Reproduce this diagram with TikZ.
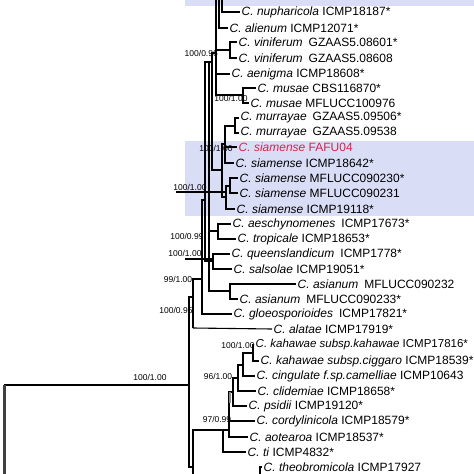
\documentclass[tikz,border=0pt]{standalone}
\usepackage{fontspec}
\setmainfont{Liberation Sans}
\definecolor{hl}{RGB}{218,221,246}
\definecolor{redtx}{RGB}{214,36,76}
\newcommand{\spn}[1]{\textit{#1}}
\newcommand{\gap}{\hspace{0.5em}}
\begin{document}
\begin{tikzpicture}[x=1pt,y=-1pt,
  br/.style={line width=1.1pt,black},
  leaf/.style={anchor=west,inner sep=1.5pt,font=\fontsize{12}{14}\selectfont},
  bs/.style={inner sep=0pt,font=\fontsize{8.5}{10}\selectfont}]
\useasboundingbox (0,0) rectangle (474,474);
\fill[hl] (185,0) rectangle (474,6);
\fill[hl] (185,141) rectangle (474,216);
% leaves
\node[leaf] (l1) at (240,12) {\spn{C. nupharicola} ICMP18187*};
\node[leaf] (l2) at (228,28) {\spn{C. alienum} ICMP12071*};
\node[leaf] (l3) at (237,42) {\spn{C. viniferum}\gap GZAAS5.08601*};
\node[leaf] (l4) at (237,58) {\spn{C. viniferum}\gap GZAAS5.08608};
\node[leaf] (l5) at (230,74) {\spn{C. aenigma} ICMP18608*};
\node[leaf] (l6) at (256,88) {\spn{C. musae} CBS116870*};
\node[leaf] (l7) at (249,103) {\spn{C. musae} MFLUCC100976};
\node[leaf] (l8) at (239,118) {\spn{C. murrayae}\gap GZAAS5.09506*};
\node[leaf] (l9) at (239,133) {\spn{C. murrayae}\gap GZAAS5.09538};
\node[leaf,text=redtx] (l10) at (237,147) {\spn{C. siamense} FAFU04};
\node[leaf] (l11) at (234,163) {\spn{C. siamense} ICMP18642*};
\node[leaf] (l12) at (238,178) {\spn{C. siamense} MFLUCC090230*};
\node[leaf] (l13) at (238,193) {\spn{C. siamense} MFLUCC090231};
\node[leaf] (l14) at (235,209) {\spn{C. siamense} ICMP19118*};
\node[leaf] (l15) at (231,224) {\spn{C. aeschynomenes}\gap ICMP17673*};
\node[leaf] (l16) at (236,239) {\spn{C. tropicale} ICMP18653*};
\node[leaf] (l17) at (230,254) {\spn{C. queenslandicum}\gap ICMP1778*};
\node[leaf] (l18) at (232,269) {\spn{C. salsolae} ICMP19051*};
\node[leaf] (l19) at (296,284) {\spn{C. asianum}\gap MFLUCC090232};
\node[leaf] (l20) at (238,299) {\spn{C. asianum}\gap MFLUCC090233*};
\node[leaf] (l21) at (232,314) {\spn{C. gloeosporioides}\gap ICMP17821*};
\node[leaf] (l22) at (272,329) {\spn{C. alatae} ICMP17919*};
\node[leaf,font=\fontsize{11.5}{14}\selectfont] (l23) at (254,345) {\spn{C. kahawae subsp.kahawae} ICMP17816*};
\node[leaf] (l24) at (259,361) {\spn{C. kahawae subsp.ciggaro} ICMP18539*};
\node[leaf] (l25) at (255,376) {\spn{C. cingulate f.sp.camelliae} ICMP10643};
\node[leaf] (l26) at (256,391) {\spn{C. clidemiae} ICMP18658*};
\node[leaf] (l27) at (247,406) {\spn{C. psidii} ICMP19120*};
\node[leaf] (l28) at (255,421) {\spn{C. cordylinicola} ICMP18579*};
\node[leaf] (l29) at (248,437) {\spn{C. aotearoa} ICMP18537*};
\node[leaf] (l30) at (246,452) {\spn{C. ti} ICMP4832*};
\node[leaf] (l31) at (262,467) {\spn{C. theobromicola} ICMP17927};
% internal coordinates
\coordinate (t1) at (222,0);
\coordinate (t2) at (219,0);
\coordinate (pat) at (216,0);
\coordinate (pa) at (216,53);
\coordinate (vin) at (230,50);
\coordinate (mu) at (243,95);
\coordinate (pb) at (212,62);
\coordinate (pc) at (209,110);
\coordinate (pd) at (205,200);
\coordinate (s) at (222,170);
\coordinate (s1) at (225,144);
\coordinate (m) at (235,126);
\coordinate (s3) at (226,197);
\coordinate (s2) at (230,186);
\coordinate (at) at (218,231);
\coordinate (qs) at (213,261);
\coordinate (as) at (230,291);
\coordinate (pe) at (202,244);
\coordinate (pf) at (193,297);
\coordinate (r) at (189,385);
\coordinate (rt) at (4,385);
\coordinate (rb) at (4,474);
\coordinate (k1) at (253,353);
\coordinate (k2) at (243,365);
\coordinate (k3) at (238,378);
\coordinate (k4) at (233,392);
\coordinate (k5) at (229,430);
\coordinate (k6) at (223,430);
\coordinate (k7) at (193,467);
\coordinate (k7b) at (193,474);
\coordinate (tb) at (260,474);
\coordinate (u1) at (176,192);
\coordinate (u2) at (185,259);
\begin{scope}[br]
\draw (t1) |- (l1.west);
\draw (t2) |- (l2.west);
\draw (pat) -- (pa);
\draw (pa) |- (vin); \draw (vin) |- (l3.west); \draw (vin) |- (l4.west);
\draw (pa) |- (l5.west);
\draw (pa) |- (mu); \draw (mu) |- (l6.west); \draw (mu) |- (l7.west);
% siamense clade
\draw (m) |- (l8.west); \draw (m) |- (l9.west);
\draw (s1) |- (m); \draw (s1) |- (l10.west); \draw (s1) |- (l11.west);
\draw (s2) |- (l12.west); \draw (s2) |- (l13.west);
\draw (s3) |- (s2); \draw (s3) |- (l14.west);
\draw (s) |- (s1); \draw (s) |- (s3);
\draw (u1) -- (s3 |- u1);
% backbone
\draw (pb) |- (pa); \draw (pb) |- (s);
\draw (pc) |- (pb); \draw (pc) |- (at); \draw (pc) |- (as);
\draw (pd) |- (pb); \draw (pd) |- (qs);
\draw (at) |- (l15.west); \draw (at) |- (l16.west);
\draw (qs) |- (l17.west); \draw (qs) |- (l18.west);
\draw (u2) -- (qs |- u2);
\draw (as) |- (l19.west); \draw (as) |- (l20.west);
\draw (pe) |- (pd); \draw (pe) |- (l21.west);
\draw (pf) |- (pe |- 0,279); \draw (pf |- 0,279) -- (pf |- 0,328);
\draw (pf |- 0,328) -- (l22.west);
\draw (r) |- (pf); \draw (r) |- (k7);
\draw (rt) -- (r);
% kahawae clade
\draw (k1) |- (l23.west); \draw (k1) |- (l24.west);
\draw (k2) |- (k1); \draw (k2) |- (l25.west);
\draw (k3) |- (k2); \draw (k3) |- (l26.west);
\draw (k4) |- (k3); \draw (k4) |- (l27.west);
\draw (k5) |- (k4); \draw (k5) |- (l28.west); \draw (k5) |- (l29.west);
\draw (k6) -- (k5); \draw (k6) |- (l30.west);
\draw (k7b) |- (k6);
\draw (tb) |- (l31.west);
\end{scope}
\draw[line width=2.4pt,black!45] (230,392) -- (230,403);
\draw[line width=3pt,black!75] (rt) -- (rb);
% support values
\node[bs,anchor=east] (b1) at (218,53) {100/0.96};
\node[bs] (b2) at (231,98) {100/1.00};
\node[bs] (b3) at (216,148) {100/1.00};
\node[bs] (b4) at (190,187) {100/1.00};
\node[bs] (b5) at (187,236) {100/0.99};
\node[bs] (b6) at (185,253) {100/1.00};
\node[bs] (b7) at (178,279) {99/1.00};
\node[bs] (b8) at (176,310) {100/0.95};
\node[bs] (b9) at (150,377) {100/1.00};
\node[bs] (b10) at (238,345) {100/1.00};
\node[bs] (b11) at (218,376) {96/1.00};
\node[bs] (b12) at (217,419) {97/0.99};
\end{tikzpicture}
\end{document}
